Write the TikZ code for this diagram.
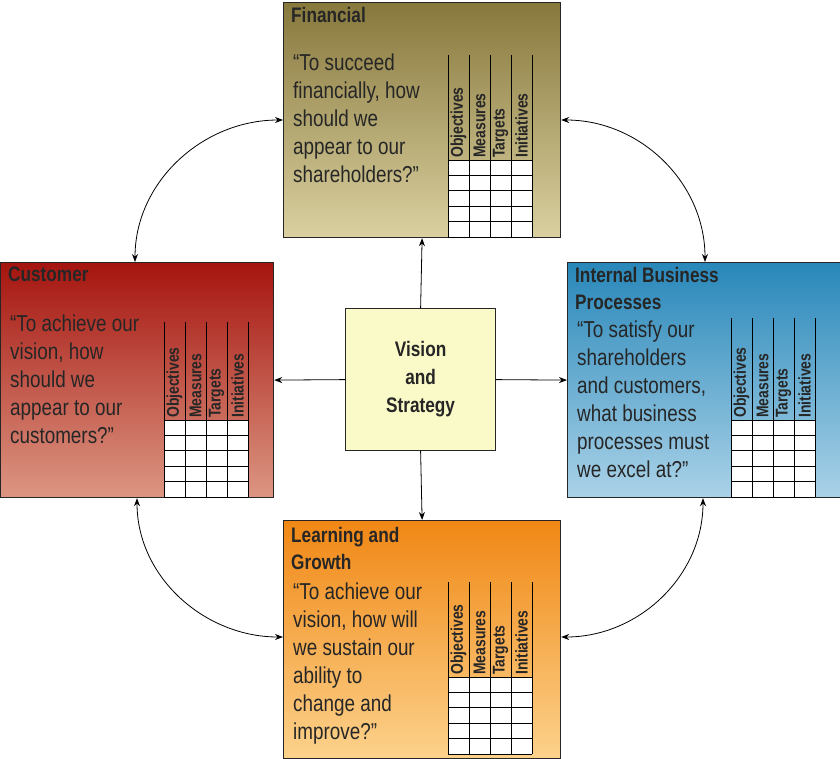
\documentclass[tikz,border=0pt]{standalone}
\usepackage{fontspec}
\setmainfont{Liberation Sans}[FakeStretch=0.82]
\usetikzlibrary{arrows.meta}
\definecolor{finT}{RGB}{135,120,60}
\definecolor{finB}{RGB}{218,208,160}
\definecolor{cusT}{RGB}{165,20,15}
\definecolor{cusB}{RGB}{220,150,130}
\definecolor{ibpT}{RGB}{40,135,185}
\definecolor{ibpB}{RGB}{170,210,232}
\definecolor{lgT}{RGB}{240,135,20}
\definecolor{lgB}{RGB}{252,210,140}
\definecolor{visF}{RGB}{250,250,200}
\begin{document}
\begin{tikzpicture}[x=1pt,y=-1pt,
  quad/.style={draw=black!85,line width=1.2pt},
  qtext/.style={anchor=north west,inner sep=0pt,align=left,font=\fontsize{23}{28}\selectfont,text=black!85},
  ttl/.style={anchor=north west,inner sep=0pt,align=left,font=\fontsize{21}{27}\bfseries\selectfont,text=black!85},
  conn/.style={line width=0.8pt,-{Stealth[length=8pt,width=6pt]}},
  dconn/.style={line width=0.8pt,{Stealth[length=8pt,width=6pt]}-{Stealth[length=8pt,width=6pt]}}]
\useasboundingbox (0,0) rectangle (840,758);
\fill[white] (0,0) rectangle (840,758);
\newcommand{\bsctable}[3]{% x, top of header, grid top
  \fill[white] (#1,#3) rectangle ++(84,77);
  \foreach \i in {0,...,4} \draw[line width=0.7pt] (#1+21*\i,#2) -- (#1+21*\i,#3+77);
  \foreach \j in {0,...,5} \draw[line width=0.7pt] (#1,#3+15.4*\j) -- (#1+84,#3+15.4*\j);
  \foreach \t [count=\k from 0] in {Objectives,Measures,Targets,Initiatives}
    \node[rotate=90,anchor=west,inner sep=2pt,font=\fontsize{17}{17}\bfseries\selectfont,text=black!85] at (#1+21*\k+10.5,#3) {\t};
}
% boxes
\shade[top color=finT,bottom color=finB] (283,2) rectangle (560,237);
\node[quad,minimum width=277pt,minimum height=235pt,anchor=north west,inner sep=0pt] (fin) at (283,2) {};
\shade[top color=cusT,bottom color=cusB] (0,262) rectangle (273,497);
\node[quad,minimum width=273pt,minimum height=235pt,anchor=north west,inner sep=0pt] (cus) at (0,262) {};
\shade[top color=ibpT,bottom color=ibpB] (567,262) rectangle (840,497);
\node[quad,minimum width=273pt,minimum height=235pt,anchor=north west,inner sep=0pt] (ibp) at (567,262) {};
\shade[top color=lgT,bottom color=lgB] (283,520) rectangle (560,758);
\node[quad,minimum width=277pt,minimum height=238pt,anchor=north west,inner sep=0pt] (lg) at (283,520) {};
\node[quad,fill=visF,minimum width=150pt,minimum height=142pt,anchor=north west,inner sep=0pt] (vis) at (345,308) {};
\node[align=center,font=\fontsize{21}{28}\bfseries\selectfont,text=black!85] at (vis.center) {Vision\\and\\Strategy};
% titles and questions
\node[ttl] (t1) at (291,7) {Financial};
\node[qtext] (q1) at (293,54) {“To succeed\\financially, how\\should we\\appear to our\\shareholders?”};
\bsctable{448}{55}{160}
\node[ttl] (t2) at (8,267) {Customer};
\node[qtext] (q2) at (10,315) {“To achieve our\\vision, how\\should we\\appear to our\\customers?”};
\bsctable{164}{322}{420}
\node[ttl] (t3) at (575,267) {Internal Business\\Processes};
\node[qtext] (q3) at (577,321) {“To satisfy our\\shareholders\\and customers,\\what business\\processes must\\we excel at?”};
\bsctable{731}{318}{420}
\node[ttl] (t4) at (291,527) {Learning and\\Growth};
\node[qtext] (q4) at (293,583) {“To achieve our\\vision, how will\\we sustain our\\ability to\\change and\\improve?”};
\bsctable{448}{582}{677}
% connectors
\draw[conn] (vis.north) -- (fin.south);
\draw[conn] (vis.south) -- (lg.north);
\draw[conn] (vis.west) -- (cus.east);
\draw[conn] (vis.east) -- (ibp.west);
\draw[dconn] (fin.west |- 0,120) to[out=180,in=90] (cus.north -| 135,0);
\draw[dconn] (fin.east |- 0,120) to[out=0,in=90] (ibp.north -| 705,0);
\draw[dconn] (cus.south -| 137,0) to[out=-90,in=180] (lg.west |- 0,637);
\draw[dconn] (ibp.south -| 703,0) to[out=-90,in=0] (lg.east |- 0,637);
\end{tikzpicture}
\end{document}
